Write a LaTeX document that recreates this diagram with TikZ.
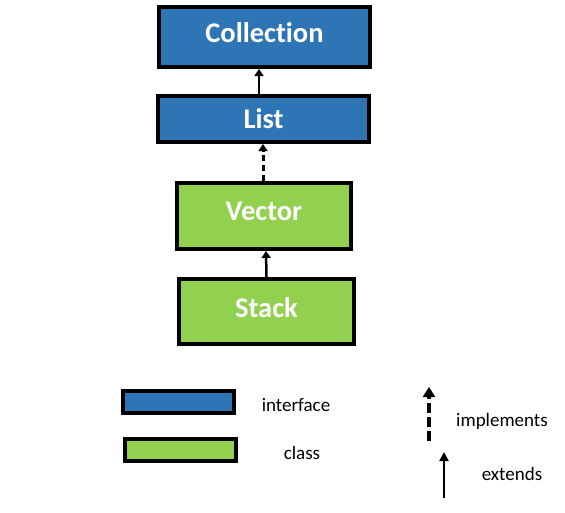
\documentclass[tikz,border=0pt]{standalone}
\usepackage{fontspec}
\setmainfont{Carlito}[Ligatures=NoCommon]
\usepackage{tikz}
\usetikzlibrary{arrows.meta,positioning,calc}
\definecolor{ifaceBlue}{HTML}{2E75B6}
\definecolor{classGreen}{HTML}{92D050}

\begin{document}
\begin{tikzpicture}[x=1pt,y=-1pt,
  box/.style={draw=black,line width=4pt,text=white,
    font=\fontsize{28.5}{30}\selectfont\bfseries,inner sep=0pt,text depth=9pt},
  iface/.style={box,fill=ifaceBlue},
  cls/.style={box,fill=classGreen},
  legtext/.style={font=\fontsize{19}{21}\selectfont},
  ext/.style={line width=2.5pt,-{Triangle[width=9pt,length=7pt]}},
  impl/.style={line width=3pt,dash pattern=on 6pt off 4pt,-{Triangle[width=9pt,length=7pt]}}]
\useasboundingbox (0,0) rectangle (565,512);
% hierarchy
\node[iface,minimum width=211pt,minimum height=60pt] (collection) at (264.5,37) {Collection};
\node[iface,minimum width=211pt,minimum height=46pt,text depth=2pt] (list) at (263.5,119) {List};
\node[cls,minimum width=174pt,minimum height=66pt] (vector) at (264,216) {Vector};
\node[cls,minimum width=175pt,minimum height=65pt] (stack) at (266.5,311.5) {Stack};
\draw[ext] ([xshift=-4.5pt]list.north) -- ([xshift=-5.5pt]collection.south);
\draw[impl] ([xshift=-1pt]vector.north) -- ([xshift=-0.5pt]list.south);
\draw[ext] (stack.north) -- ([xshift=2pt]vector.south);
% legend
\node[box,fill=ifaceBlue,minimum width=111pt,minimum height=22pt,text depth=0pt] (legiface) at (178.5,402) {};
\node[box,fill=classGreen,minimum width=111pt,minimum height=22pt,text depth=0pt] (legclass) at (180.5,450) {};
\node[legtext] (ifacelab) at (296,405) {interface};
\node[legtext] (classlab) at (302,453) {class};
\coordinate (implfrom) at (429,441);
\coordinate (implto) at (429,387);
\coordinate (extfrom) at (444,498);
\coordinate (extto) at (444,452);
\draw[line width=4pt,dash pattern=on 10pt off 4pt,-{Triangle[width=12pt,length=10pt]}] (implfrom) -- (implto);
\draw[line width=2pt,-{Triangle[width=9pt,length=9pt]}] (extfrom) -- (extto);
\node[legtext] (impllab) at (502,421) {implements};
\node[legtext] (extlab) at (512,474) {extends};
\end{tikzpicture}
\end{document}
